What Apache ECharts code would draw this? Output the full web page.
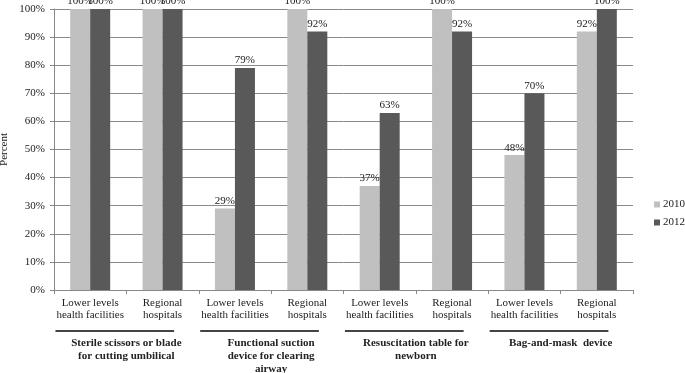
<!DOCTYPE html>
<html><head><meta charset="utf-8">
<script src="https://cdn.jsdelivr.net/npm/echarts@6/dist/echarts.min.js"></script>
<style>html,body{margin:0;padding:0;background:#fff}#c{width:685px;height:373px}</style>
</head><body><div id="c"></div>
<script>
var categories = ['Lower levels\nhealth facilities','Regional\nhospitals','Lower levels\nhealth facilities','Regional\nhospitals','Lower levels\nhealth facilities','Regional\nhospitals','Lower levels\nhealth facilities','Regional\nhospitals'];
var groups = ['Sterile scissors or blade\nfor cutting umbilical','Functional suction\ndevice for clearing\nairway','Resuscitation table for\nnewborn','Bag-and-mask  device'];
var values2010 = [100,100,29,100,37,100,48,92];
var values2012 = [100,100,79,92,63,92,70,100];
var yTicks = [0,10,20,30,40,50,60,70,80,90,100];

var FONT = '"Liberation Serif","DejaVu Serif",serif';
var chart = echarts.init(document.getElementById('c'));
var lbl = {show:true, position:'top', formatter:'{c}%', color:'#222', fontFamily:FONT, fontSize:11, distance:2};
chart.setOption({
  animation:false,
  grid:{left:54, right:52, top:9, bottom:83, containLabel:false, outerBoundsMode:'none'},
  legend:{orient:'vertical', left:654, top:199, itemWidth:6, itemHeight:6, itemGap:7,
    icon:'rect', padding:0, textStyle:{fontFamily:FONT, fontSize:11, color:'#222', padding:[0,0,0,-2], overflow:'none'},
    data:['2010','2012']},
  xAxis:[{type:'category', data:categories, position:'bottom',
    axisLine:{lineStyle:{color:'#888'}}, axisTick:{show:true, length:4, lineStyle:{color:'#888'}},
    axisLabel:{fontFamily:FONT, fontSize:11, color:'#222', lineHeight:12, margin:7, interval:0}},
   {type:'category', data:groups, position:'bottom', offset:47,
    axisLine:{show:false}, axisTick:{show:false},
    axisLabel:{fontFamily:FONT, fontSize:11, fontWeight:'bold', color:'#222', lineHeight:13, interval:0, margin:0, verticalAlign:'top'}}],
  yAxis:{type:'value', min:0, max:100, interval:10, name:'Percent', nameLocation:'middle', nameGap:44,
    nameMoveOverlap:false,
    nameTextStyle:{fontFamily:FONT, fontSize:11, color:'#222'},
    axisLine:{show:true, lineStyle:{color:'#888'}}, axisTick:{show:true, length:4, lineStyle:{color:'#888'}},
    splitLine:{lineStyle:{color:'#8a8a8a'}},
    axisLabel:{formatter:'{value}%', fontFamily:FONT, fontSize:11, color:'#222', margin:9}},
  series:[
    {name:'2010', type:'bar', data:values2010, xAxisIndex:0, barWidth:20, barGap:'0%', itemStyle:{color:'#c0c0c0'}, label:lbl},
    {name:'2012', type:'bar', data:values2012, xAxisIndex:0, barWidth:20, barGap:'0%', itemStyle:{color:'#595959'}, label:lbl}
  ]
});
// group underlines, computed from axis positions
var lines = [];
var bw = chart.convertToPixel({xAxisIndex:0}, 1) - chart.convertToPixel({xAxisIndex:0}, 0);
for (var g=0; g<groups.length; g++) {
  var x0 = chart.convertToPixel({xAxisIndex:0}, g*2) - bw*0.48;
  var x1 = chart.convertToPixel({xAxisIndex:0}, g*2+1) + bw*0.16;
  lines.push({type:'line', shape:{x1:x0, y1:331, x2:x1, y2:331}, style:{stroke:'#444', lineWidth:2}});
}
chart.setOption({graphic:lines});
</script></body></html>
